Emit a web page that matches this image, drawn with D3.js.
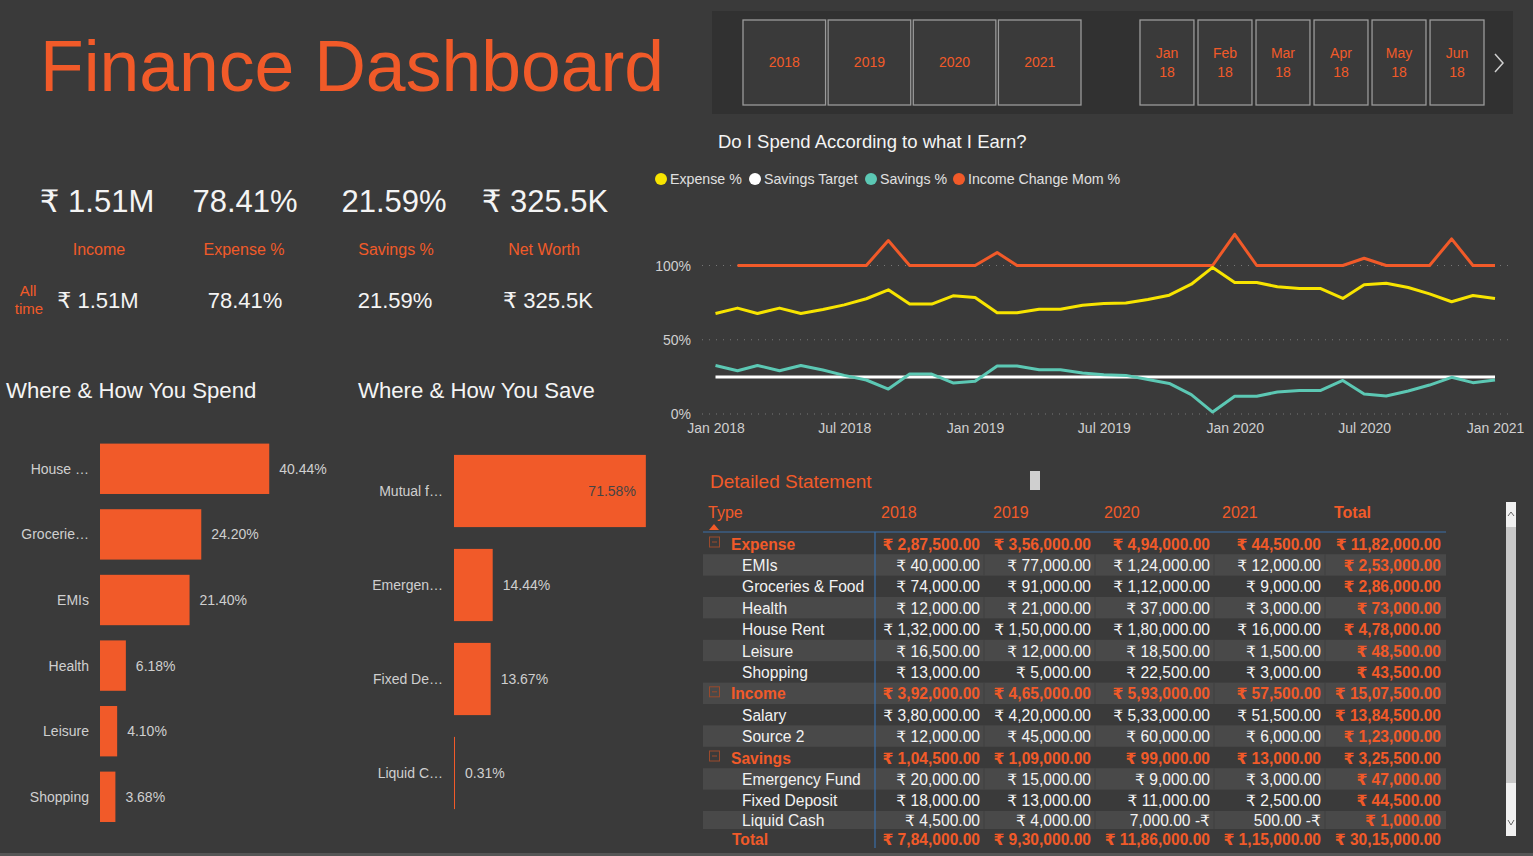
<!DOCTYPE html>
<html><head><meta charset="utf-8">
<script src="https://cdn.jsdelivr.net/npm/d3@7"></script>
<style>
html,body{margin:0;padding:0;background:#3a3a3a;overflow:hidden;}
svg{display:block;font-family:"Liberation Sans",Arial,"DejaVu Sans","Noto Sans",sans-serif;}
</style></head>
<body>
<svg id="c" width="1533" height="856"></svg>
<script>
// ---------------- DATA ----------------
const kpiValues = ["₹ 1.51M","78.41%","21.59%","₹ 325.5K"];
const kpiLabels = ["Income","Expense %","Savings %","Net Worth"];
const kpiAllTime = ["₹ 1.51M","78.41%","21.59%","₹ 325.5K"];

const yearSlicer = ["2018","2019","2020","2021"];
const monthSlicer = ["Jan","Feb","Mar","Apr","May","Jun"];
const monthSlicerYear = ["18","18","18","18","18","18"];

const spendCats = ["House …","Grocerie…","EMIs","Health","Leisure","Shopping"];
const spendPct = [40.44,24.20,21.40,6.18,4.10,3.68];
const saveCats = ["Mutual f…","Emergen…","Fixed De…","Liquid C…"];
const savePct = [71.58,14.44,13.67,0.31];

const lineStart = new Date(2018,0,1);
const lineEnd = new Date(2021,0,1);
const expensePct = [67.7,71.3,67.7,71.3,67.7,70.4,73.5,77.6,83.6,74,74,79.6,78.5,68.2,68.2,70.6,70.6,73.3,
  74.4,74.7,77.1,80,87.4,98.7,88.6,88.6,85.7,84.5,84.5,77.8,87,88.1,85.2,80.9,75.6,79.8,77.8];
const savingsPct = [32.7,29.1,32.7,29.1,32.7,29.6,26,22.9,16.8,26.9,26.9,20.9,22,32.3,32.3,29.8,29.8,27.6,
  26.5,26,23.3,20.6,13,1.3,11.9,11.9,14.8,15.9,15.9,22.6,13.5,12.1,15.5,19.5,24.7,21.1,22.9];
const savingsTarget = [25,25,25,25,25,25,25,25,25,25,25,25,25,25,25,25,25,25,25,25,25,25,25,25,25,25,25,25,25,25,25,25,25,25,25,25,25];
const incomeChange = [null,100,100,100,100,100,100,100,116.8,100,100,100,100,108.7,100,100,100,100,100,100,100,100,100,100,121,100,100,100,100,100,104.9,100,100,100,117.9,100,100];
const yTicks = [0,50,100];

const tableHeaders = ["Type","2018","2019","2020","2021","Total"];
const tableTypes = ["Expense","EMIs","Groceries & Food","Health","House Rent","Leisure","Shopping","Income","Salary","Source 2","Savings","Emergency Fund","Fixed Deposit","Liquid Cash"];
const rowLevel = [0,1,1,1,1,1,1,0,1,1,0,1,1,1];
const val2018 = [287500,40000,74000,12000,132000,16500,13000,392000,380000,12000,104500,20000,18000,4500];
const val2019 = [356000,77000,91000,21000,150000,12000,5000,465000,420000,45000,109000,15000,13000,4000];
const val2020 = [494000,124000,112000,37000,180000,18500,22500,593000,533000,60000,99000,9000,11000,-7000];
const val2021 = [44500,12000,9000,3000,16000,1500,3000,57500,51500,6000,13000,3000,2500,-500];
const valTotal = [1182000,253000,286000,73000,478000,48500,43500,1507500,1384500,123000,325500,47000,44500,1000];
const grandTotal = [784000,930000,1186000,115000,3015000];

// ---------------- STYLE ----------------
const ORANGE = "#F15A29", BG = "#3a3a3a", TXT = "#cfcfcf";
const YELLOW = "#F7E400", TEAL = "#5CC8B4", WHITE = "#ffffff";
const svg = d3.select("#c");
svg.append("rect").attr("width",1533).attr("height",856).attr("fill",BG);
svg.append("rect").attr("x",0).attr("y",853).attr("width",1533).attr("height",3).attr("fill","#555");

// Title
svg.append("text").attr("x",40).attr("y",91).attr("fill",ORANGE).attr("font-size",71.5).text("Finance Dashboard");

// KPIs
const kpiX = [97,245,394,545];
const kpiX2 = [98,245,395,548];
const labX = [99,244,396,544];
kpiValues.forEach((v,i)=>{
  svg.append("text").attr("x",kpiX[i]).attr("y",212).attr("text-anchor","middle").attr("fill","#f4f4f4").attr("font-size",31).text(v);
  svg.append("text").attr("x",labX[i]).attr("y",255).attr("text-anchor","middle").attr("fill",ORANGE).attr("font-size",16).text(kpiLabels[i]);
  svg.append("text").attr("x",kpiX2[i]).attr("y",308).attr("text-anchor","middle").attr("fill","#f4f4f4").attr("font-size",22).text(kpiAllTime[i]);
});
svg.append("text").attr("x",28).attr("y",296).attr("text-anchor","middle").attr("fill",ORANGE).attr("font-size",15).text("All");
svg.append("text").attr("x",29).attr("y",314).attr("text-anchor","middle").attr("fill",ORANGE).attr("font-size",15).text("time");

// Slicer panel
svg.append("rect").attr("x",712).attr("y",11).attr("width",801).attr("height",103).attr("fill","#313131");
const yearX = d3.scaleBand().domain(yearSlicer).range([743,1081]).paddingInner(0.03);
yearSlicer.forEach(y=>{
  svg.append("rect").attr("x",yearX(y)).attr("y",20).attr("width",yearX.bandwidth()).attr("height",85)
    .attr("fill",BG).attr("stroke","#9a9a9a").attr("stroke-width",1.3);
  svg.append("text").attr("x",yearX(y)+yearX.bandwidth()/2).attr("y",67).attr("text-anchor","middle")
    .attr("fill",ORANGE).attr("font-size",14).text(y);
});
const monX = d3.scaleBand().domain(monthSlicer).range([1140,1484]).paddingInner(0.07);
monthSlicer.forEach((m,i)=>{
  svg.append("rect").attr("x",monX(m)).attr("y",20).attr("width",monX.bandwidth()).attr("height",85)
    .attr("fill",BG).attr("stroke","#9a9a9a").attr("stroke-width",1.3);
  const cx = monX(m)+monX.bandwidth()/2;
  svg.append("text").attr("x",cx).attr("y",58).attr("text-anchor","middle").attr("fill",ORANGE).attr("font-size",14).text(m);
  svg.append("text").attr("x",cx).attr("y",77).attr("text-anchor","middle").attr("fill",ORANGE).attr("font-size",14).text(monthSlicerYear[i]);
});
svg.append("path").attr("d","M1495,54 L1503,63 L1495,72").attr("fill","none").attr("stroke","#cfcfcf").attr("stroke-width",1.5);

// ---------------- LINE CHART ----------------
svg.append("text").attr("x",718).attr("y",148).attr("fill","#f4f4f4").attr("font-size",18.5).text("Do I Spend According to what I Earn?");
const legend = [["Expense %",YELLOW,661],["Savings Target",WHITE,755],["Savings %",TEAL,871],["Income Change Mom %",ORANGE,959]];
legend.forEach(([t,c,x])=>{
  svg.append("circle").attr("cx",x).attr("cy",179).attr("r",6).attr("fill",c);
  svg.append("text").attr("x",x+9).attr("y",184).attr("fill","#e0e0e0").attr("font-size",14.2).text(t);
});
const months = d3.timeMonth.range(lineStart, d3.timeMonth.offset(lineEnd,1));
const xT = d3.scaleTime().domain([lineStart,lineEnd]).range([715.5,1495]);
const yL = d3.scaleLinear().domain([0,100]).range([414,265.5]);
const grid = svg.append("g");
yTicks.forEach(t=>{
  grid.append("line").attr("x1",702).attr("x2",1508).attr("y1",yL(t)).attr("y2",yL(t))
    .attr("stroke","#777").attr("stroke-width",1).attr("stroke-dasharray","1,6");
  grid.append("text").attr("x",691).attr("y",yL(t)+5).attr("text-anchor","end").attr("fill",TXT).attr("font-size",14).text(t+"%");
});
const xAxis = d3.axisBottom(xT).tickValues(d3.timeMonth.every(6).range(lineStart,d3.timeMonth.offset(lineEnd,1))).tickFormat(d3.timeFormat("%b %Y")).tickSize(0);
const xg = svg.append("g").attr("transform","translate(0,422)").call(xAxis);
xg.select(".domain").remove();
xg.selectAll("text").attr("fill",TXT).attr("font-size",14).attr("font-family","Liberation Sans, Arial, sans-serif").attr("dy","0.6em");
const line = d3.line().defined(d=>d[1]!=null).x(d=>xT(d[0])).y(d=>yL(d[1]));
const series = [[incomeChange,ORANGE],[expensePct,YELLOW],[savingsTarget,WHITE],[savingsPct,TEAL]];
series.forEach(([arr,c])=>{
  svg.append("path").attr("d",line(months.map((m,i)=>[m,arr[i]]))).attr("fill","none").attr("stroke",c)
    .attr("stroke-width",3).attr("stroke-linejoin","round");
});

// ---------------- BAR CHARTS ----------------
function barChart(title,tx,cats,vals,labelRight,x0,pxPer,yRange,insideIdx){
  svg.append("text").attr("x",tx).attr("y",398).attr("fill","#f4f4f4").attr("font-size",22.2).text(title);
  const y = d3.scaleBand().domain(cats).range(yRange).paddingInner(0.232).paddingOuter(0.116);
  const x = d3.scaleLinear().domain([0,100]).range([x0,x0+pxPer*100]);
  cats.forEach((c,i)=>{
    const w = Math.max(1,x(vals[i])-x0);
    svg.append("rect").attr("x",x0).attr("y",y(c)).attr("width",w).attr("height",y.bandwidth()).attr("fill",ORANGE);
    const cy = y(c)+y.bandwidth()/2;
    svg.append("text").attr("x",labelRight).attr("y",cy+5).attr("text-anchor","end").attr("fill",TXT).attr("font-size",14).text(c);
    const lab = vals[i].toFixed(2)+"%";
    if(i===insideIdx){
      svg.append("text").attr("x",x(vals[i])-10).attr("y",cy+5).attr("text-anchor","end").attr("fill","#444").attr("font-size",14).text(lab);
    } else {
      svg.append("text").attr("x",x0+w+10).attr("y",cy+5).attr("fill",TXT).attr("font-size",14).text(lab);
    }
  });
}
barChart("Where & How You Spend",6,spendCats,spendPct,89,100,4.185,[436,829.6],-1);
barChart("Where & How You Save",358,saveCats,savePct,443,454,2.68,[444,820],0);

// ---------------- TABLE ----------------
svg.append("text").attr("x",710).attr("y",488).attr("fill",ORANGE).attr("font-size",19).text("Detailed Statement");
svg.append("rect").attr("x",1030).attr("y",471).attr("width",10).attr("height",19).attr("fill","#cfcfcf");
const colRight = [980,1091,1210,1321,1441];
const headX = [708,881,993,1104,1222,1334];
tableHeaders.forEach((h,i)=>{
  svg.append("text").attr("x",headX[i]).attr("y",518).attr("fill",ORANGE).attr("font-size",16)
    .attr("font-weight",i===5?"bold":"normal").text(h);
});
svg.append("path").attr("d","M709,530 L714,524 L719,530 Z").attr("fill",ORANGE);
function fmtINR(v){
  const neg = v<0; const a = Math.abs(v);
  let [ip,dp] = a.toFixed(2).split(".");
  if(ip.length>3){
    const last3 = ip.slice(-3); let rest = ip.slice(0,-3);
    rest = rest.replace(/\B(?=(\d{2})+(?!\d))/g,",");
    ip = rest+","+last3;
  }
  const n = ip+"."+dp;
  return neg ? n+" -₹" : "₹ "+n;
}
const cols = [val2018,val2019,val2020,val2021,valTotal];
const rowH = 21.4, row0 = 543.5;
const FS = 15.6;
svg.append("clipPath").attr("id","tclip").append("rect").attr("x",700).attr("y",532).attr("width",760).attr("height",297);
const body = svg.append("g").attr("clip-path","url(#tclip)");
tableTypes.forEach((t,r)=>{
  const cy = row0 + r*rowH;
  const last = r===tableTypes.length-1;
  const by = last ? cy+4.5 : cy+6;
  if(r%2===1){
    body.append("rect").attr("x",703).attr("y",cy-rowH/2).attr("width",743).attr("height",rowH).attr("fill","#494949");
    [984,1095,1214,1325].forEach(xx=>body.append("line").attr("x1",xx).attr("x2",xx).attr("y1",cy-rowH/2).attr("y2",cy+rowH/2).attr("stroke","#404040"));
  }
  const grp = rowLevel[r]===0;
  if(grp){
    body.append("rect").attr("x",709.5).attr("y",cy-6.5).attr("width",10).attr("height",10).attr("fill","none").attr("stroke","#9a4a2c").attr("stroke-width",1);
    body.append("line").attr("x1",712).attr("x2",717).attr("y1",cy-1.5).attr("y2",cy-1.5).attr("stroke","#9a4a2c");
  }
  body.append("text").attr("x",grp?731:742).attr("y",by).attr("fill",grp?ORANGE:"#f2f2f2")
    .attr("font-size",FS).attr("font-weight",grp?"bold":"normal").text(t);
  cols.forEach((arr,ci)=>{
    const orange = grp || ci===4;
    body.append("text").attr("x",colRight[ci]).attr("y",by).attr("text-anchor","end")
      .attr("fill",orange?ORANGE:"#f2f2f2").attr("font-size",FS).attr("font-weight",orange?"bold":"normal")
      .text(fmtINR(arr[r]));
  });
});
// total row
svg.append("rect").attr("x",703).attr("y",829).attr("width",743).attr("height",20).attr("fill",BG);
svg.append("text").attr("x",732).attr("y",845).attr("fill",ORANGE).attr("font-size",FS).attr("font-weight","bold").text("Total");
grandTotal.forEach((v,ci)=>{
  svg.append("text").attr("x",colRight[ci]).attr("y",845).attr("text-anchor","end").attr("fill",ORANGE)
    .attr("font-size",FS).attr("font-weight","bold").text(fmtINR(v));
});
svg.append("line").attr("x1",703).attr("x2",1446).attr("y1",532).attr("y2",532).attr("stroke","#3a6ea8").attr("stroke-width",1.2);
svg.append("line").attr("x1",875).attr("x2",875).attr("y1",532).attr("y2",848).attr("stroke","#3a6ea8").attr("stroke-width",1.2);
// scrollbar
svg.append("rect").attr("x",1506).attr("y",502).attr("width",10).attr("height",334).attr("fill","#f0f0f0");
svg.append("rect").attr("x",1506).attr("y",527).attr("width",10).attr("height",256).attr("fill","#c8c8c8");
svg.append("path").attr("d","M1508,516 L1511,512 L1514,516").attr("fill","none").attr("stroke","#666");
svg.append("path").attr("d","M1508,820 L1511,825 L1514,820").attr("fill","none").attr("stroke","#666");
</script>
</body></html>
